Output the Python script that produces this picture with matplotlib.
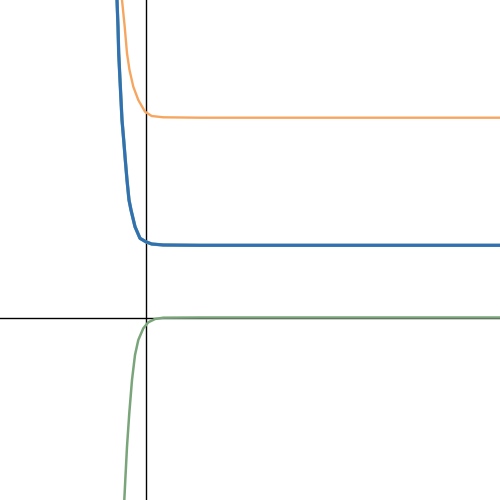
import numpy as np
import matplotlib
matplotlib.use("Agg")
import matplotlib.pyplot as plt

# points (axes cross at the origin)
blue_x = [-0.29, -0.28, -0.273, -0.26, -0.24, -0.223, -0.207, -0.19, -0.17, -0.15, -0.11, -0.06,
          -0.003, 0.057, 0.173, 0.54, 3.54]
blue_y = [3.18, 2.913, 2.647, 2.38, 1.98, 1.78, 1.58, 1.38, 1.18, 1.08, 0.913, 0.797,
          0.763, 0.74, 0.73, 0.727, 0.727]

orange_x = [-0.24, -0.213, -0.19, -0.165, -0.127, -0.077, -0.01, 0.057, 0.173, 0.54, 3.54]
orange_y = [3.18, 2.913, 2.647, 2.48, 2.313, 2.18, 2.063, 2.02, 2.007, 2.003, 2.003]

green_x = [-0.217, -0.207, -0.19, -0.167, -0.14, -0.11, -0.077, -0.027, 0.023, 0.09, 0.173, 0.54, 3.54]
green_y = [-1.82, -1.62, -1.287, -0.95, -0.62, -0.37, -0.22, -0.103, -0.043, -0.01, 0.003, 0.005, 0.005]

fig = plt.figure(figsize=(5, 5), dpi=100)
ax = fig.add_axes([0, 0, 1, 1])

ax.axhline(0, color="black", lw=1, zorder=1)
ax.axvline(0, color="black", lw=1, zorder=1)

ax.plot(blue_x, blue_y, color="#7aa57a", lw=2.4, solid_joinstyle="round", zorder=2)
ax.plot(blue_x, blue_y, color="#2f71b4", lw=2.2, solid_joinstyle="round", zorder=3)
ax.plot(orange_x, orange_y, color="#f7a660", lw=1.7, solid_joinstyle="round", zorder=3)
ax.plot(green_x, green_y, color="#7aa57a", lw=1.8, solid_joinstyle="round", zorder=2)

ax.set_xlim(-1.46, 3.54)
ax.set_ylim(-1.82, 3.18)
ax.axis("off")

fig.savefig("out.png", dpi=100)
